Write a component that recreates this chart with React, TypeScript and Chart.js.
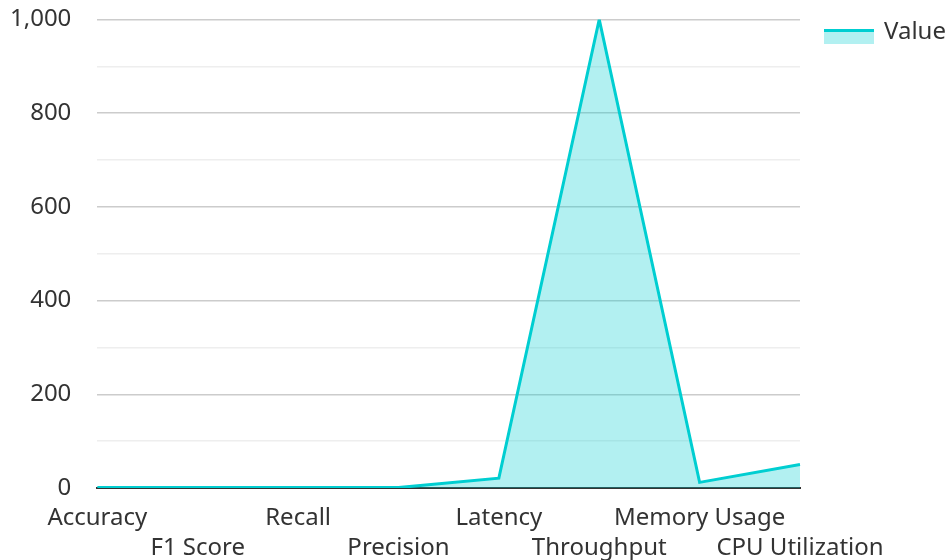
import React, { useEffect, useRef } from 'react';
import { Chart, registerables } from 'chart.js';

Chart.register(...registerables);

const categories = ['Accuracy', 'F1 Score', 'Recall', 'Precision', 'Latency', 'Throughput', 'Memory Usage', 'CPU Utilization'];
const values = [0.95, 0.93, 0.91, 0.94, 21, 1000, 12, 50];
const seriesName = 'Value';
const yTickLabels = [0, 200, 400, 600, 800, 1000];

const LINE = '#00ced1';
const FILL = 'rgba(0,206,209,0.3)';
const FONT = "'Noto Sans', sans-serif";
const TEXT = '#333333';
const SHIFT = 21;

const legendPlugin = {
  id: 'customLegend',
  afterDraw(chart: any) {
    const ctx = chart.ctx;
    ctx.save();
    const x = 824, y = 29 + SHIFT;
    ctx.fillStyle = FILL;
    ctx.fillRect(x, y + 2, 50, 13);
    ctx.fillStyle = LINE;
    ctx.fillRect(x, y, 50, 3);
    ctx.fillStyle = TEXT;
    ctx.font = `24px ${FONT}`;
    ctx.textBaseline = 'middle';
    ctx.textAlign = 'left';
    ctx.fillText(seriesName, 884, 32 + SHIFT);
    ctx.restore();
  },
};

export default function App() {
  const ref = useRef<HTMLCanvasElement>(null);
  useEffect(() => {
    document.body.style.margin = '0';
    const labels = categories.map((c, i) => (i % 2 === 0 ? c : ['', c]));
    const chart = new Chart(ref.current!, {
      type: 'line',
      data: {
        labels,
        datasets: [
          {
            label: seriesName,
            data: values,
            borderColor: LINE,
            backgroundColor: FILL,
            borderWidth: 3,
            fill: 'origin',
            pointRadius: 0,
            tension: 0,
          },
        ],
      },
      options: {
        animation: false,
        responsive: false,
        maintainAspectRatio: false,
        layout: { padding: { top: -31, right: 148, left: -16, bottom: -18 } },
        plugins: { legend: { display: false }, tooltip: { enabled: false } },
        scales: {
          x: {
            offset: false,
            grid: { display: false, drawTicks: false },
            border: { display: true, color: '#333', width: 2 },
            ticks: {
              autoSkip: false,
              maxRotation: 0,
              minRotation: 0,
              color: TEXT,
              font: { family: FONT, size: 24, lineHeight: '30px' },
              padding: 15,
            },
          },
          y: {
            min: 0,
            max: 1000,
            grid: {
              drawTicks: false,
              color: (ctx: any) => (ctx.tick && ctx.tick.value % 200 === 0 ? '#cccccc' : '#eeeeee'),
              lineWidth: 1.5,
            },
            border: { display: false },
            ticks: {
              stepSize: 100,
              color: TEXT,
              font: { family: FONT, size: 24 },
              padding: 26,
              callback: (v: any) => (yTickLabels.includes(Number(v)) ? Number(v).toLocaleString('en-US') : ''),
            },
          },
        },
      },
      plugins: [legendPlugin],
    });
    return () => chart.destroy();
  }, []);
  return (
    <div style={{ width: 948, height: 560, overflow: 'hidden' }}>
      <canvas ref={ref} width={948} height={560 + SHIFT} style={{ display: 'block', marginTop: -SHIFT }} />
    </div>
  );
}
